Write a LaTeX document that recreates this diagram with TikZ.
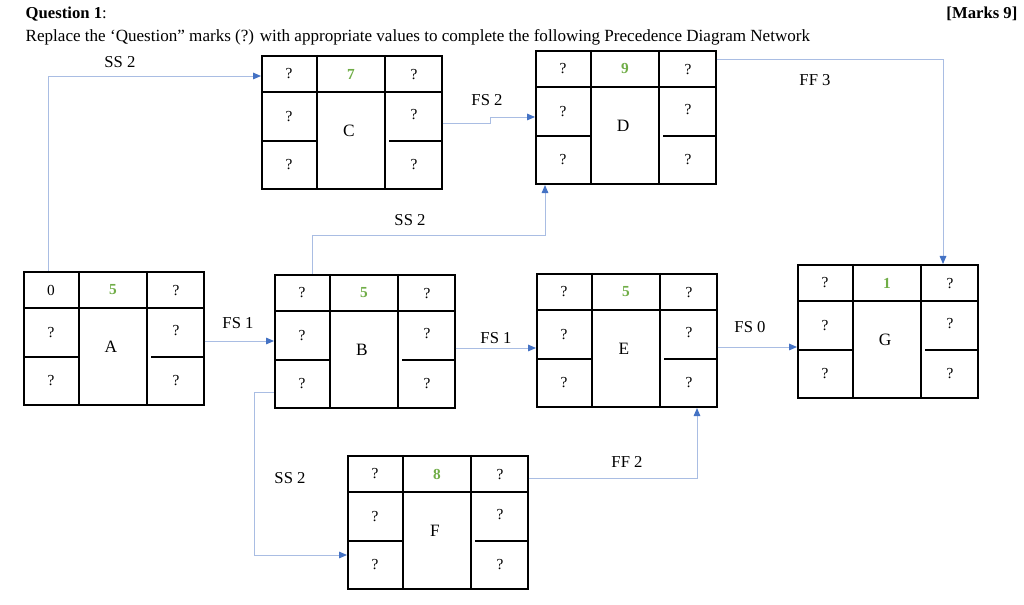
\documentclass[tikz,border=0pt]{standalone}
\usepackage{fontspec}
\setmainfont{Liberation Serif}
\usetikzlibrary{calc,arrows.meta}
\definecolor{grn}{HTML}{70AD47}
\definecolor{lnk}{HTML}{A9BDE3}
\definecolor{tip}{HTML}{4472C4}
\tikzset{
 box/.style={draw,line width=1.3pt,minimum width=135pt,minimum height=100pt,anchor=north west,inner sep=0pt},
 cell/.style={line width=0.9pt},
 txt/.style={font=\fontsize{11.5}{13}\selectfont},
 dur/.style={font=\bfseries\fontsize{11.5}{13}\selectfont,text=grn},
 link/.style={draw=lnk,line width=0.7pt,-{Triangle[length=6pt,width=5pt,fill=tip,color=tip]}},
 lab/.style={font=\fontsize{12.5}{14}\selectfont},
}
\newcommand{\act}[6]{%
 \node[box] (#1) at (#2,#3) {};
 \draw[cell] ($(#1.north west)+(56,0)$) -- ($(#1.south west)+(56,0)$);
 \draw[cell] ($(#1.north west)+(124,0)$) -- ($(#1.south west)+(124,0)$);
 \draw[cell] ($(#1.north west)+(0,37)$) -- ($(#1.north east)+(0,37)$);
 \draw[cell] ($(#1.north west)+(0,86)$) -- ($(#1.north west)+(56,86)$);
 \draw[cell] ($(#1.north west)+(128,86)$) -- ($(#1.north east)+(0,86)$);
 \node[txt] (#1tl) at ($(#1.north west)+(28,19)$) {#4};
 \node[dur] (#1du) at ($(#1.north west)+(90,19)$) {#5};
 \node[txt] (#1tr) at ($(#1.north west)+(153,20)$) {?};
 \node[txt] (#1ml) at ($(#1.north west)+(28,62)$) {?};
 \node[txt] (#1bl) at ($(#1.north west)+(28,110)$) {?};
 \node[txt] (#1mr) at ($(#1.north west)+(153,60)$) {?};
 \node[txt] (#1br) at ($(#1.north west)+(153,110)$) {?};
 \node[txt,font=\fontsize{13}{15}\selectfont] (#1nm) at ($(#1.north west)+(88,76)$) {#6};
}
\begin{document}
\begin{tikzpicture}[x=0.75pt,y=-0.75pt]
\useasboundingbox (0,0) rectangle (1024,605);
\node[anchor=west,font=\bfseries\fontsize{12.5}{14}\selectfont] (q) at (21,14) {Question 1\textmd{:}};
\node[anchor=east,font=\bfseries\fontsize{12.5}{14}\selectfont] (m) at (1022,14) {[Marks 9]};
\node[anchor=west,font=\fontsize{12.8}{14}\selectfont] (r) at (21,37) {Replace the ‘Question” marks (?) with appropriate values to complete the following Precedence Diagram Network};
\act{A}{23}{271}{0}{5}{A}
\act{B}{274}{274}{?}{5}{B}
\act{C}{261}{55}{?}{7}{C}
\act{D}{535}{50}{?}{9}{D}
\act{E}{536}{273}{?}{5}{E}
\act{G}{797}{264}{?}{1}{G}
\act{F}{347}{455}{?}{8}{F}
% links
\coordinate (a1) at (48,76);
\draw[link] ($(A.north west)+(25,0)$) -- (a1) -- (C.west |- a1);
\node[lab] (l1) at (120,62) {SS 2};
\draw[link] (A.east |- 0,341) -- (B.west |- 0,341);
\node[lab] (l2) at (238,323) {FS 1};
\draw[link] (C.east |- 0,123) -- (490,123) -- (490,117) -- (D.west |- 0,117);
\node[lab] (l3) at (487,100) {FS 2};
\draw[link] ($(B.north west)+(38,0)$) -- (312,235) -- (545,235) -- (D.south west -| 545,0);
\node[lab] (l4) at (410,220) {SS 2};
\draw[link] (B.east |- 0,348) -- (E.west |- 0,348);
\node[lab] (l5) at (496,338) {FS 1};
\draw[link] (D.east |- 0,59) -- (943,59) -- (G.north west -| 943,0);
\node[lab] (l6) at (815,80) {FF 3};
\draw[link] (E.east |- 0,347) -- (G.west |- 0,347);
\node[lab] (l7) at (750,327) {FS 0};
\draw[link] (B.west |- 0,392) -- (254,392) -- (254,555) -- (F.west |- 0,555);
\node[lab] (l8) at (290,478) {SS 2};
\draw[link] (F.east |- 0,478) -- (697,478) -- (E.south west -| 697,0);
\node[lab] (l9) at (627,462) {FF 2};
\end{tikzpicture}
\end{document}
